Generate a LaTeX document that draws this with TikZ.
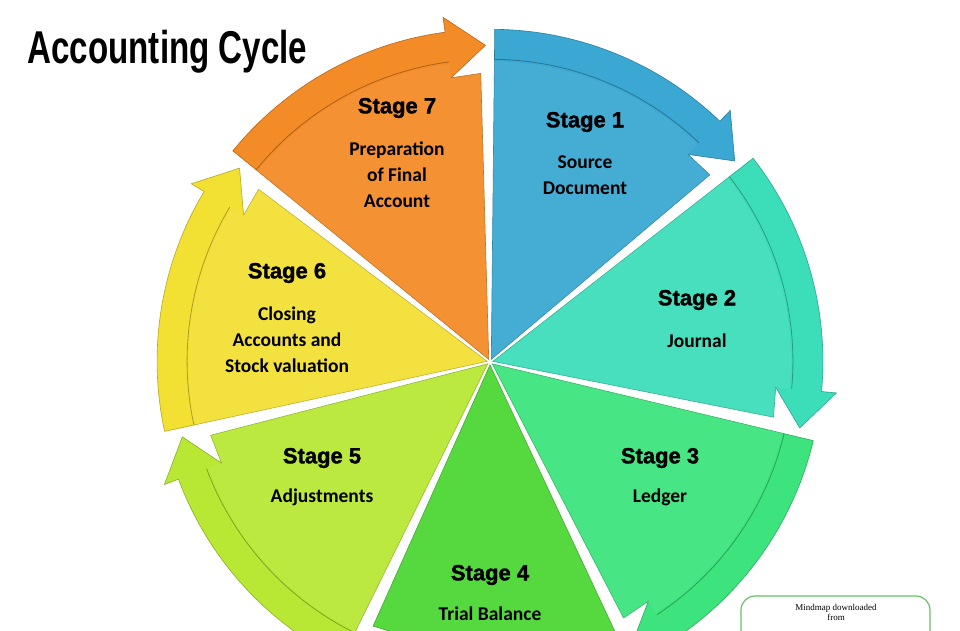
\documentclass[tikz,border=0pt]{standalone}
\usepackage{fontspec}
\setmainfont{Carlito}
\newfontfamily\stagefont[FakeBold=1.5]{Liberation Sans}
\newfontfamily\titlefont[FakeStretch=0.72]{Liberation Sans}
\newfontfamily\boxfont{Liberation Serif}
\definecolor{c1}{HTML}{3AA8D2}
\definecolor{c2}{HTML}{3CDDB9}
\definecolor{c3}{HTML}{3DE47E}
\definecolor{c4}{HTML}{4CD633}
\definecolor{c5}{HTML}{B8E834}
\definecolor{c6}{HTML}{F2E033}
\definecolor{c7}{HTML}{F38B27}
\tikzset{
  stg/.style={font=\stagefont\bfseries\fontsize{22}{24}\selectfont, text=black},
  txt/.style={font=\bfseries\fontsize{19.5}{26}\selectfont, align=center, text=black},
}
\begin{document}
\begin{tikzpicture}[x=1pt,y=1pt]
\useasboundingbox (0,0) rectangle (960,630);
\fill[white] (0,0) rectangle (960,630);
\begin{scope}
\clip (0,0) rectangle (960,630);
\foreach \i/\c in {0/c1,1/c2,2/c3,3/c4,4/c5,5/c6,6/c7}{
  \pgfmathsetmacro\s{90-\i*51.4286-0.6}
  \pgfmathsetmacro\e{\s-51.4286+1.2}
  \pgfmathsetmacro\m{(\s+\e)/2}
  \pgfmathsetmacro\h{\e+7}
  \begin{scope}[shift={(490,268)},shift={(\m:3)}]
    \fill[\c, draw=\c!75!black, line width=0.6pt] (0,0) -- (\s:330) arc[start angle=\s, end angle=\h, radius=330]
      -- (\h:345) -- (\e:314) -- (\h:284) -- (\e+1:286) -- cycle;
    \fill[\c!80!white, opacity=0.3] (0,0) -- (\s:298) arc[start angle=\s, end angle=\h, radius=298] -- (\h:284) -- (\e+1:286) -- cycle;
    \draw[\c!70!black, line width=0.8pt] (\s:300) arc[start angle=\s, end angle=\h, radius=300];
  \end{scope}
}
\end{scope}
\node[anchor=west, font=\titlefont\bfseries\fontsize{46}{50}\selectfont] (title) at (24,578) {Accounting Cycle};
\node[stg] (s1) at (585,508) {Stage 1};
\node[txt] (t1) at (585,455) {Source\\Document};
\node[stg] (s2) at (697,330) {Stage 2};
\node[txt] (t2) at (697,289) {Journal};
\node[stg] (s3) at (660,172) {Stage 3};
\node[txt] (t3) at (660,133) {Ledger};
\node[stg] (s4) at (490,55) {Stage 4};
\node[txt] (t4) at (490,16) {Trial Balance};
\node[stg] (s5) at (322,172) {Stage 5};
\node[txt] (t5) at (322,133) {Adjustments};
\node[stg] (s6) at (287,357) {Stage 6};
\node[txt] (t6) at (287,290) {Closing\\Accounts and\\Stock valuation};
\node[stg] (s7) at (397,522) {Stage 7};
\node[txt] (t7) at (397,455) {Preparation\\of Final\\Account};
\draw[green!60!black!60, line width=1.2pt, fill=white, rounded corners=14pt] (741,-20) rectangle (930,34);
\node[font=\boxfont\fontsize{9}{10}\selectfont, align=center] (bx) at (836,18) {Mindmap downloaded\\from};
\end{tikzpicture}
\end{document}
